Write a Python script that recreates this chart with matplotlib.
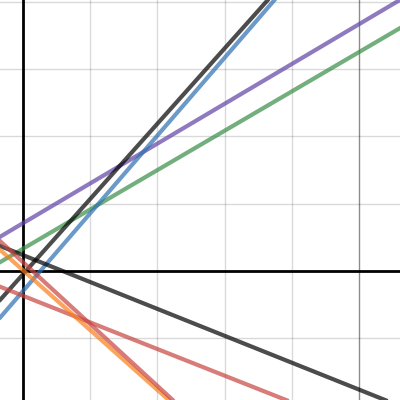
import numpy as np
import matplotlib
matplotlib.use("Agg")
import matplotlib.pyplot as plt

# lines y = m*x + b
slopes = [0.585, 0.592, 1.157, 1.12, -0.40, -0.396, -0.89, -0.92]
intercepts = [0.33, 0.71, -0.30, -0.05, 0.235, -0.37, 0.01, 0.13]
colors = ["#388c46", "#6042a6", "#2d70b3", "#000000", "#000000", "#c74440", "#fa7e19", "#c74440"]

fig = plt.figure(figsize=(4, 4), dpi=100)
ax = fig.add_axes([0, 0, 1, 1])
x0, x1 = -0.342, 5.61
y0, y1 = -1.92, 4.03
ax.set_xlim(x0, x1)
ax.set_ylim(y0, y1)
for v in range(0, 6):
    ax.axvline(v, color="#000000", alpha=0.45 if v == 5 else 0.15, lw=1, zorder=0)
for v in range(-1, 5):
    ax.axhline(v, color="#000000", alpha=0.15, lw=1, zorder=0)
ax.axvline(0, color="black", lw=2, zorder=1)
ax.axhline(0, color="black", lw=2, zorder=1)
xs = np.array([x0 - 1, x1 + 1])
for m, b, c in zip(slopes, intercepts, colors):
    ax.plot(xs, m * xs + b, color=c, lw=3, alpha=0.7, solid_capstyle="butt", zorder=2)
ax.axis("off")
fig.savefig("out.png", dpi=100)
